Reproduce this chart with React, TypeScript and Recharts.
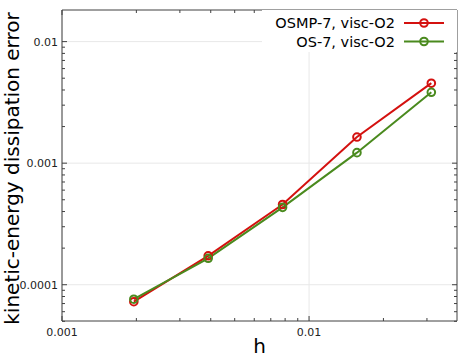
import React from 'react';
import {
  LineChart,
  Line,
  XAxis,
  YAxis,
  ReferenceLine
} from 'recharts';

const hValues = [0.001953125, 0.00390625, 0.0078125, 0.015625, 0.03125];
const osmpErr = [7.25e-5, 1.73e-4, 4.57e-4, 1.64e-3, 4.55e-3];
const osErr = [7.6e-5, 1.65e-4, 4.33e-4, 1.22e-3, 3.83e-3];

const seriesNames = ['OSMP-7, visc-O2', 'OS-7, visc-O2'];

const xMajor = [0.001, 0.01];
const xMinor = [0.002, 0.003, 0.004, 0.005, 0.006, 0.007, 0.008, 0.009, 0.02, 0.03];
const yMajor = [0.0001, 0.001, 0.01];
const yMinor = [
  5e-5, 6e-5, 7e-5, 8e-5, 9e-5,
  2e-4, 3e-4, 4e-4, 5e-4, 6e-4, 7e-4, 8e-4, 9e-4,
  2e-3, 3e-3, 4e-3, 5e-3, 6e-3, 7e-3, 8e-3, 9e-3
];
const xLabels: Record<string, string> = { '0.001': '0.001', '0.01': '0.01' };
const yLabels: Record<string, string> = { '0.0001': '0.0001', '0.001': '0.001', '0.01': '0.01' };

const data = hValues.map((h, i) => ({ h, osmp: osmpErr[i], os: osErr[i] }));

const FONT = '"DejaVu Sans", sans-serif';
const AXIS = '#404040';
const RED = '#d4110f';
const GREEN = '#4a8a1e';
const COLORS = [RED, GREEN];

const isMajor = (v: number, list: number[]) => list.some((m) => Math.abs(m - v) / m < 1e-6);

// ticks point inward, dir = +1 means draw upward/rightward
const XTick = (props: any) => {
  const { x, y, payload, dir, showLabel } = props;
  const major = isMajor(payload.value, xMajor);
  const len = major ? 5 : 3;
  return (
    <g>
      <line x1={x} x2={x} y1={y} y2={y - dir * len} stroke={AXIS} strokeWidth={1} />
      {showLabel && major && (
        <text x={x} y={y + 15} textAnchor="middle" fontSize={11} fill="#222" fontFamily={FONT}>
          {xLabels[String(payload.value)]}
        </text>
      )}
    </g>
  );
};

const YTick = (props: any) => {
  const { x, y, payload, dir, showLabel } = props;
  const major = isMajor(payload.value, yMajor);
  const len = major ? 5 : 3;
  return (
    <g>
      <line x1={x} x2={x + dir * len} y1={y} y2={y} stroke={AXIS} strokeWidth={1} />
      {showLabel && major && (
        <text x={x - 4} y={y + 4} textAnchor="end" fontSize={11} fill="#222" fontFamily={FONT}>
          {yLabels[String(payload.value)]}
        </text>
      )}
    </g>
  );
};

// legend drawn as an overlay box in the top right corner of the plot
const LegendBox = () => (
  <svg
    width={195}
    height={42}
    style={{ position: 'absolute', left: 262, top: 10, background: '#fff' }}
  >
    {seriesNames.map((name, i) => {
      const cy = 13 + i * 18.5;
      return (
        <g key={name}>
          <text x={133} y={cy + 5} textAnchor="end" fontSize={14.5} fill="#000" fontFamily={FONT}>
            {name}
          </text>
          <line x1={142} x2={182} y1={cy} y2={cy} stroke={COLORS[i]} strokeWidth={2.2} />
          <circle cx={162} cy={cy} r={3.8} fill="none" stroke={COLORS[i]} strokeWidth={2} />
        </g>
      );
    })}
  </svg>
);

const allX = [...xMajor, ...xMinor].sort((a, b) => a - b);
const allY = [...yMajor, ...yMinor].sort((a, b) => a - b);

export default function App() {
  return (
    <div style={{ position: 'absolute', left: 0, top: 0, width: 474, height: 355, background: '#fff' }}>
      <LineChart width={474} height={355} data={data} margin={{ top: 9, right: 16, bottom: 0, left: 0 }}>
        <XAxis
          xAxisId="b"
          dataKey="h"
          type="number"
          scale="log"
          domain={[0.001, 0.0397]}
          allowDataOverflow
          ticks={allX}
          interval={0}
          tickSize={0}
          tickMargin={0}
          tickLine={false}
          height={34}
          stroke={AXIS}
          tick={<XTick dir={1} showLabel />}
          label={{ value: 'h', position: 'insideBottom', offset: 2, style: { fontSize: 20, fill: '#000', fontFamily: FONT } }}
        />
        <XAxis
          xAxisId="t"
          orientation="top"
          dataKey="h"
          type="number"
          scale="log"
          domain={[0.001, 0.0397]}
          allowDataOverflow
          ticks={allX}
          interval={0}
          tickSize={0}
          tickMargin={0}
          tickLine={false}
          height={1}
          stroke={AXIS}
          tick={<XTick dir={-1} showLabel={false} />}
        />
        <YAxis
          yAxisId="l"
          type="number"
          scale="log"
          domain={[5.03e-5, 0.0182]}
          allowDataOverflow
          ticks={allY}
          interval={0}
          tickSize={0}
          tickMargin={0}
          tickLine={false}
          width={62}
          stroke={AXIS}
          tick={<YTick dir={1} showLabel />}
          label={{
            value: 'kinetic-energy dissipation error',
            angle: -90,
            position: 'center',
            dx: -19,
            dy: 3,
            style: { fontSize: 20, fill: '#000', fontFamily: FONT, textAnchor: 'middle' }
          }}
        />
        <YAxis
          yAxisId="r"
          orientation="right"
          type="number"
          scale="log"
          domain={[5.03e-5, 0.0182]}
          allowDataOverflow
          ticks={allY}
          interval={0}
          tickSize={0}
          tickMargin={0}
          tickLine={false}
          width={1}
          stroke={AXIS}
          tick={<YTick dir={-1} showLabel={false} />}
        />
        {xMajor.map((v) => (
          <ReferenceLine key={'vx' + v} x={v} xAxisId="b" yAxisId="l" stroke="#e8e8e8" strokeWidth={1} />
        ))}
        {yMajor.map((v) => (
          <ReferenceLine key={'hy' + v} y={v} xAxisId="b" yAxisId="l" stroke="#e8e8e8" strokeWidth={1} />
        ))}
        <Line
          xAxisId="b"
          yAxisId="l"
          dataKey="osmp"
          name={seriesNames[0]}
          stroke={RED}
          strokeWidth={2}
          dot={{ r: 3.8, fill: 'none', stroke: RED, strokeWidth: 2 }}
          isAnimationActive={false}
        />
        <Line
          xAxisId="b"
          yAxisId="l"
          dataKey="os"
          name={seriesNames[1]}
          stroke={GREEN}
          strokeWidth={2}
          dot={{ r: 3.8, fill: 'none', stroke: GREEN, strokeWidth: 2 }}
          isAnimationActive={false}
        />
      </LineChart>
      <LegendBox />
    </div>
  );
}
